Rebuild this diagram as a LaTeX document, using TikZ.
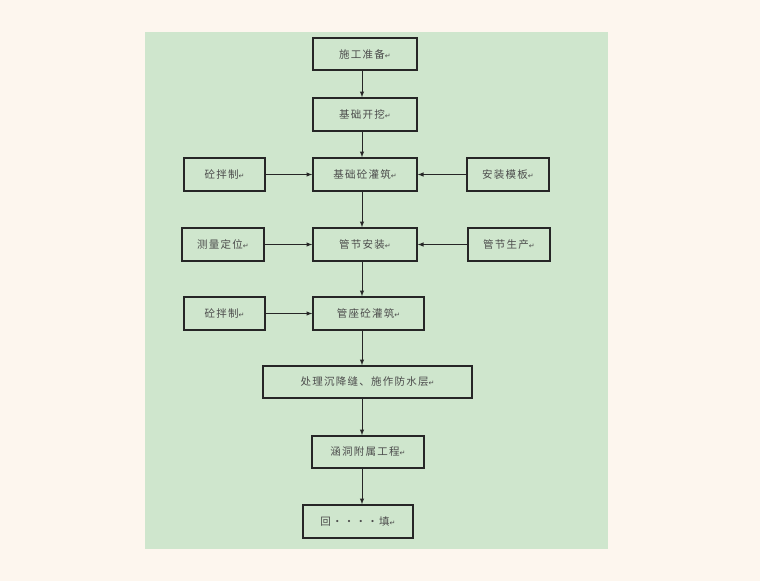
\documentclass[tikz,border=0pt]{standalone}
\usepackage{fontspec}
\newfontfamily\cjk[LetterSpace=12]{Noto Sans CJK SC}
\newfontfamily\djv{DejaVu Sans}
\newcommand{\rt}{{\djv\fontsize{7}{8}\selectfont ↵}}
\begin{document}
\begin{tikzpicture}[x=1pt,y=-1pt,
  box/.style={draw=black!85,line width=1.4pt,inner sep=0pt,font=\cjk\fontsize{10.5}{12}\selectfont,text=black!70},
  arr/.style={-latex,line width=1pt,black!85}]
\definecolor{bgc}{HTML}{FDF6EE}\definecolor{gc}{HTML}{CFE6CD}
\fill[bgc] (0,0) rectangle (760,581);
\useasboundingbox (0,0) rectangle (760,581);
\fill[gc] (145,32) rectangle (608,549);
\newcommand{\bx}[6]{\node[box,minimum width=#4-#2,minimum height=#5-#3] (#1) at ({(#2+#4)/2},{(#3+#5)/2}) {#6\rt};}
\bx{a}{313}{38}{417}{70}{施工准备}
\bx{b}{313}{98}{417}{131}{基础开挖}
\bx{c1}{184}{158}{265}{191}{砼拌制}
\bx{c}{313}{158}{417}{191}{基础砼灌筑}
\bx{c2}{467}{158}{549}{191}{安装模板}
\bx{d1}{182}{228}{264}{261}{测量定位}
\bx{d}{313}{228}{417}{261}{管节安装}
\bx{d2}{468}{228}{550}{261}{管节生产}
\bx{e1}{184}{297}{265}{330}{砼拌制}
\bx{e}{313}{297}{424}{330}{管座砼灌筑}
\bx{f}{263}{366}{472}{398}{处理沉降缝、施作防水层}
\bx{g}{312}{436}{424}{468}{涵洞附属工程}
\bx{h}{303}{505}{413}{538}{回····填}
\coordinate (x) at (362,0);
\foreach \u/\v in {a/b,b/c,c/d,d/e,e/f,f/g,g/h}
  \draw[arr] (\u.south -| x) -- (\v.north -| x);
\draw[arr] (c1) -- (c); \draw[arr] (c2) -- (c);
\draw[arr] (d1) -- (d); \draw[arr] (d2) -- (d);
\draw[arr] (e1) -- (e1 -| e.west);
\end{tikzpicture}
\end{document}
